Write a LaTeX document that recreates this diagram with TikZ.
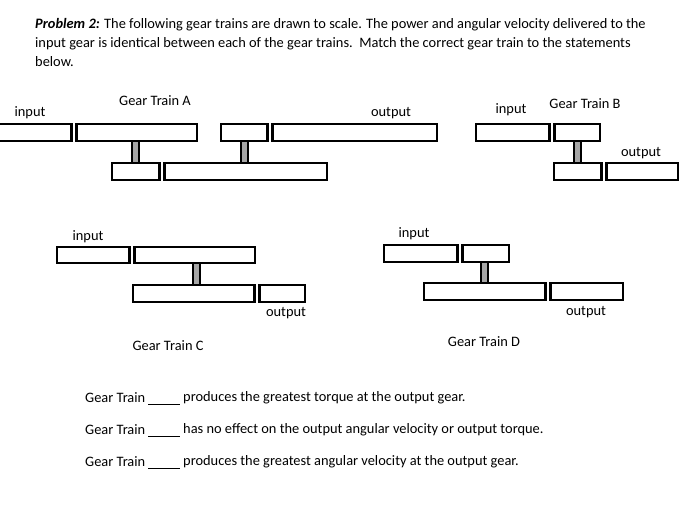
\documentclass[tikz,border=0pt]{standalone}
\usepackage{fontspec}
\setmainfont{Carlito}
\begin{document}
\begin{tikzpicture}[x=1pt,y=-1pt,
  gear/.style={draw,line width=2.4pt},
  shaft/.style={draw,fill=gray!70,line width=1.4pt},
  lab/.style={font=\fontsize{14.4}{16}\selectfont,inner sep=0pt}]
\useasboundingbox[fill=white] (0,0) rectangle (686,513);
\node[lab,anchor=west,align=left] (title) at (35,43) {\textbf{\textit{Problem 2:}} The following gear trains are drawn to scale. The power and angular velocity delivered to the\\[3pt]input gear is identical between each of the gear trains.\ \ Match the correct gear train to the statements\\[3pt]below.};
% shafts first
\draw[shaft] (132,141) rectangle (139,163);
\draw[shaft] (241,141) rectangle (248,163);
\draw[shaft] (574,141) rectangle (581,163);
\draw[shaft] (193,263) rectangle (200,285);
\draw[shaft] (481,262) rectangle (488,283);
% Train A
\draw[gear] (-5,124) rectangle (71.5,141);
\draw[gear] (76.5,124) rectangle (197,141);
\draw[gear] (221,124) rectangle (267.5,141);
\draw[gear] (272.5,124) rectangle (437,141);
\draw[gear] (112,163) rectangle (159.5,180);
\draw[gear] (164.5,163) rectangle (327,180);
% Train B
\draw[gear] (476,124) rectangle (549.5,141);
\draw[gear] (554.5,124) rectangle (600,141);
\draw[gear] (554,163) rectangle (601.5,180);
\draw[gear] (606.5,163) rectangle (678,180);
% Train C
\draw[gear] (57,247) rectangle (129.5,263);
\draw[gear] (134.5,247) rectangle (255,263);
\draw[gear] (133,285) rectangle (254.5,302);
\draw[gear] (259.5,285) rectangle (305,302);
% Train D
\draw[gear] (384,245) rectangle (457.5,262);
\draw[gear] (462.5,245) rectangle (509,262);
\draw[gear] (424,283) rectangle (545.5,300);
\draw[gear] (550.5,283) rectangle (623,300);
% labels
\node[lab] (a1) at (30,113) {input};
\node[lab] (a2) at (155,101) {Gear Train A};
\node[lab] (a3) at (391,113) {output};
\node[lab] (b1) at (511,110) {input};
\node[lab] (b2) at (585,104) {Gear Train B};
\node[lab] (b3) at (641,153) {output};
\node[lab] (c1) at (88,237) {input};
\node[lab] (c2) at (286,313) {output};
\node[lab] (c3) at (168,346) {Gear Train C};
\node[lab] (d1) at (414,234) {input};
\node[lab] (d2) at (586,312) {output};
\node[lab] (d3) at (484,342) {Gear Train D};
\foreach \y/\t [count=\i] in {398/produces the greatest torque at the output gear.,430/has no effect on the output angular velocity or output torque.,462/produces the greatest angular velocity at the output gear.}{
  \node[lab,anchor=west] (g\i) at (85,\y) {Gear Train};
  \draw[line width=0.7pt] (148,\y+6) -- (180,\y+6);
  \node[lab,anchor=west] (s\i) at (183,\y) {\t};
}
\end{tikzpicture}
\end{document}
